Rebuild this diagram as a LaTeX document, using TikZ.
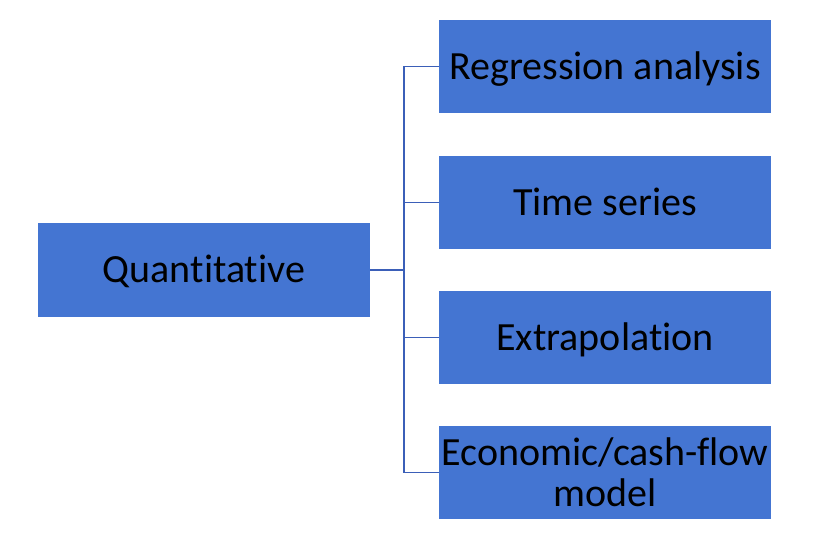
\documentclass[tikz,border=0pt]{standalone}
\usepackage{fontspec}
\setmainfont{Carlito}[Ligatures=NoCommon]
\usepackage{tikz}
\usetikzlibrary{positioning}
\definecolor{boxblue}{HTML}{4475D2}
\definecolor{linkblue}{HTML}{3B5FB8}

\begin{document}
\begin{tikzpicture}[
    x=0.75pt, y=-0.75pt,
    method/.style={rectangle, fill=boxblue, inner sep=0pt,
                   minimum width=249pt, minimum height=70pt,
                   font=\fontsize{30}{31}\selectfont, align=center},
    oneline/.style={method, text height=19.5pt, text depth=0pt},
    link/.style={draw=linkblue, line width=1.1pt},
]
\useasboundingbox (0,0) rectangle (827,541);

% Left: the parent category
\node[oneline] (quant) at (204, 270) {Quantitative};

% Right column: the four methods
\node[oneline] (regression) at (605, 66.5) {Regression analysis};
\node[oneline] (timeseries) at (605, 202.5) {Time series};
\node[oneline] (extrapolation) at (605, 337.5) {Extrapolation};
\node[method] (cashflow) at (605, 472.5) {Economic/cash-flow\\model};

% junction on the vertical trunk
\coordinate (junction) at (404, 270);

% parent -> trunk
\draw[link] (quant.east) -- (junction);

% trunk -> each method
\draw[link] (junction) |- (regression.west);
\draw[link] (junction) |- (timeseries.west);
\draw[link] (junction) |- (extrapolation.west);
\draw[link] (junction) |- (cashflow.west);

\end{tikzpicture}
\end{document}
